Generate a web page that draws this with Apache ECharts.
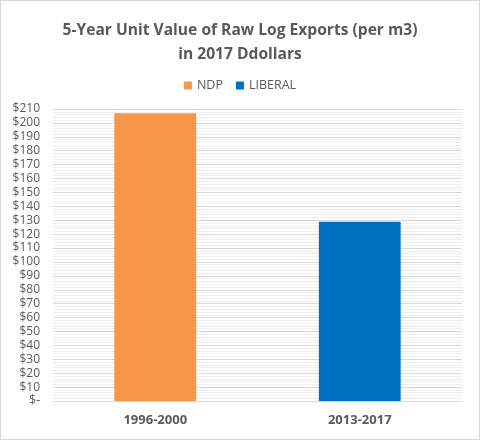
<!DOCTYPE html>
<html><head><meta charset="utf-8">
<script src="https://cdn.jsdelivr.net/npm/echarts@6/dist/echarts.min.js"></script>
<style>html,body{margin:0;padding:0;background:#fff}#c{width:480px;height:440px;box-sizing:border-box;border:1px solid #d9d9d9}</style>
</head><body><div id="c"></div>
<script>
const categories = ["1996-2000", "2013-2017"];
const ndpValues = [207, null];
const liberalValues = [null, 129];
const seriesNames = ["NDP", "LIBERAL"];
const titleText = "5-Year Unit Value of Raw Log Exports (per m3)\nin 2017 Ddollars";

const chart = echarts.init(document.getElementById('c'));
chart.setOption({
  animation: false,
  textStyle: { fontFamily: 'Open Sans' },
  title: {
    text: titleText, left: 'center', top: 13,
    textStyle: { fontSize: 15.6, fontWeight: 'bold', color: '#595959', lineHeight: 24, fontFamily: 'Open Sans' }
  },
  legend: {
    data: seriesNames, top: 73, left: 'center', itemWidth: 8, itemHeight: 8, itemGap: 13,
    icon: 'rect', textStyle: { fontSize: 12.5, color: '#595959' }
  },
  grid: { left: 52, right: 17, top: 108, bottom: 38 },
  xAxis: {
    type: 'category', data: categories,
    axisLine: { lineStyle: { color: '#d9d9d9' } }, axisTick: { show: false },
    axisLabel: { fontSize: 13, fontWeight: 'bold', color: '#595959', margin: 13 }
  },
  yAxis: {
    type: 'value', min: 0, max: 210, interval: 10,
    axisLine: { show: false }, axisTick: { show: false },
    axisLabel: { fontSize: 12, color: '#595959', margin: 13,
      formatter: v => v === 0 ? '$-' : '$' + v },
    splitLine: { lineStyle: { color: '#d9d9d9' } },
    minorTick: { show: false, splitNumber: 5 },
    minorSplitLine: { show: true, lineStyle: { color: '#eeeeee' } }
  },
  series: [
    { name: seriesNames[0], type: 'bar', stack: 's', data: ndpValues, barWidth: '40%', itemStyle: { color: '#F79646' } },
    { name: seriesNames[1], type: 'bar', stack: 's', data: liberalValues, barWidth: '40%', itemStyle: { color: '#0070C0' } }
  ]
});
</script></body></html>
